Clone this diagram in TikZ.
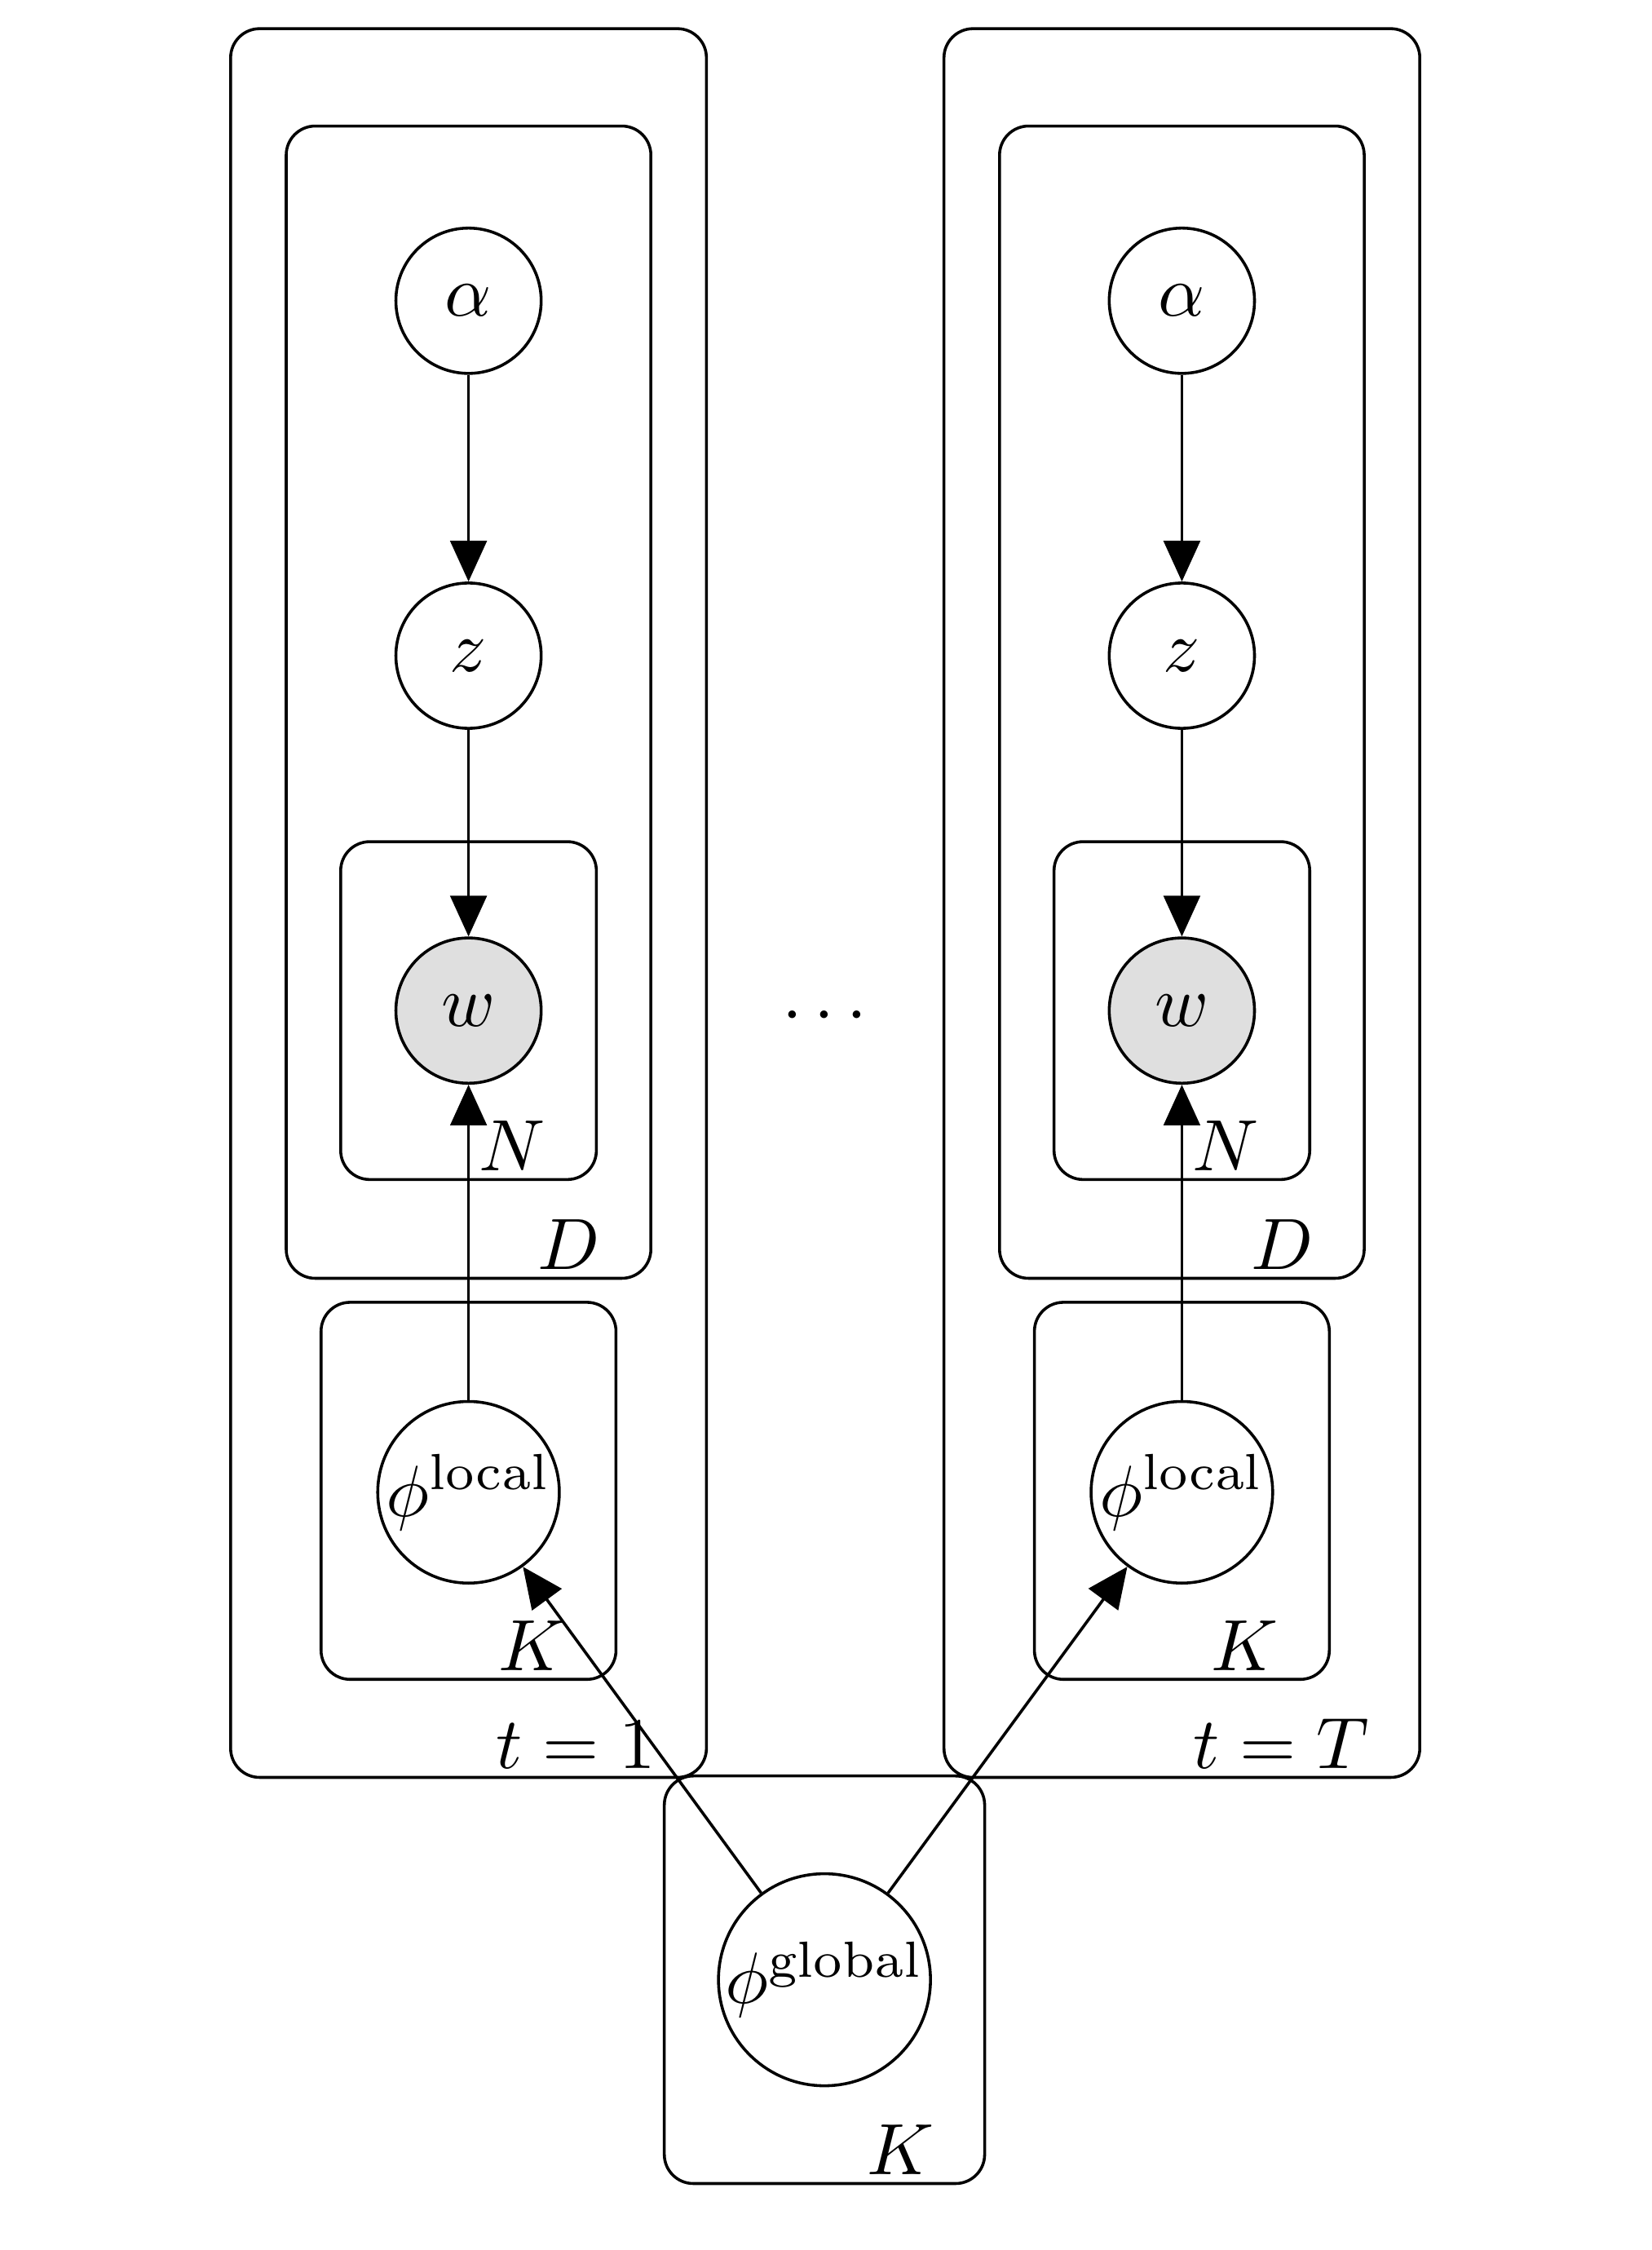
\documentclass[tikz,border=0pt]{standalone}
\usetikzlibrary{positioning,arrows.meta}
\begin{document}
\begin{tikzpicture} [
				node distance=1cm,
				latent/.style={circle,draw,line width=0.4pt,minimum size=20pt,inner sep=0pt},
				obs/.style={latent,fill=gray!25},
				plate/.style={draw,rounded corners=4pt,line width=0.4pt,inner sep=0pt},
				platelabel/.style={anchor=south east,inner sep=0pt,xshift=-7pt,yshift=1.2pt},
				edge/.style={-{Triangle[length=5.6pt,width=5pt]},line width=0.4pt}
			]
			\useasboundingbox (-113.5pt,-171.1pt) rectangle (113.9pt,138.6pt);
			% first time slice
			\node[latent] (alpha1) at (-49pt,97.2pt) {$\alpha$};
			\node[latent, below=of alpha1] (z1) {$z$};
			\node[obs, below=of z1] (w1) {$w$};
			\node[latent, minimum size=25pt, below=43.4pt of w1] (phil1) {$\phi^{\mathrm{local}}$};
			\node[plate, minimum width=35.2pt, minimum height=46.5pt] (N1) at (w1) {};
			\node[plate, minimum width=50.2pt, minimum height=158.6pt, yshift=-6.4pt] (D1) at (z1) {};
			\node[plate, minimum width=40.6pt, minimum height=51.9pt, yshift=0.2pt] (K1) at (phil1) {};
			\node[plate, minimum width=65.5pt, minimum height=240.7pt] (t1) at (-49pt,14.3pt) {};
			\node[platelabel] (N1lab) at (N1.south east) {$N$};
			\node[platelabel] (D1lab) at (D1.south east) {$D$};
			\node[platelabel] (K1lab) at (K1.south east) {$K$};
			\node[platelabel] (t1lab) at (t1.south east) {$t=1$};
			% last time slice
			\node[latent] (alphaT) at (49.2pt,97.2pt) {$\alpha$};
			\node[latent, below=of alphaT] (zT) {$z$};
			\node[obs, below=of zT] (wT) {$w$};
			\node[latent, minimum size=25pt, below=43.4pt of wT] (philT) {$\phi^{\mathrm{local}}$};
			\node[plate, minimum width=35.2pt, minimum height=46.5pt] (NT) at (wT) {};
			\node[plate, minimum width=50.2pt, minimum height=158.6pt, yshift=-6.4pt] (DT) at (zT) {};
			\node[plate, minimum width=40.6pt, minimum height=51.9pt, yshift=0.2pt] (KT) at (philT) {};
			\node[plate, minimum width=65.5pt, minimum height=240.7pt] (tT) at (49.2pt,14.3pt) {};
			\node[platelabel] (NTlab) at (NT.south east) {$N$};
			\node[platelabel] (DTlab) at (DT.south east) {$D$};
			\node[platelabel] (KTlab) at (KT.south east) {$K$};
			\node[platelabel] (tTlab) at (tT.south east) {$t=T$};
			\node (dots) at (0,-1.4pt) {$\cdots$};
			% shared topics
			\node[latent, minimum size=28.6pt] (phig) at (0,-133.9pt) {$\phi^{\mathrm{global}}$};
			\node[plate, minimum width=44.1pt, minimum height=56.1pt] (Kg) at (phig) {};
			\node[platelabel] (Kglab) at (Kg.south east) {$K$};
			\draw[edge] (alpha1) -- (z1);
			\draw[edge] (z1) -- (w1);
			\draw[edge] (phil1) -- (w1);
			\draw[edge] (alphaT) -- (zT);
			\draw[edge] (zT) -- (wT);
			\draw[edge] (philT) -- (wT);
			\draw[edge] (phig) -- (phil1);
			\draw[edge] (phig) -- (philT);
		\end{tikzpicture}
\end{document}
